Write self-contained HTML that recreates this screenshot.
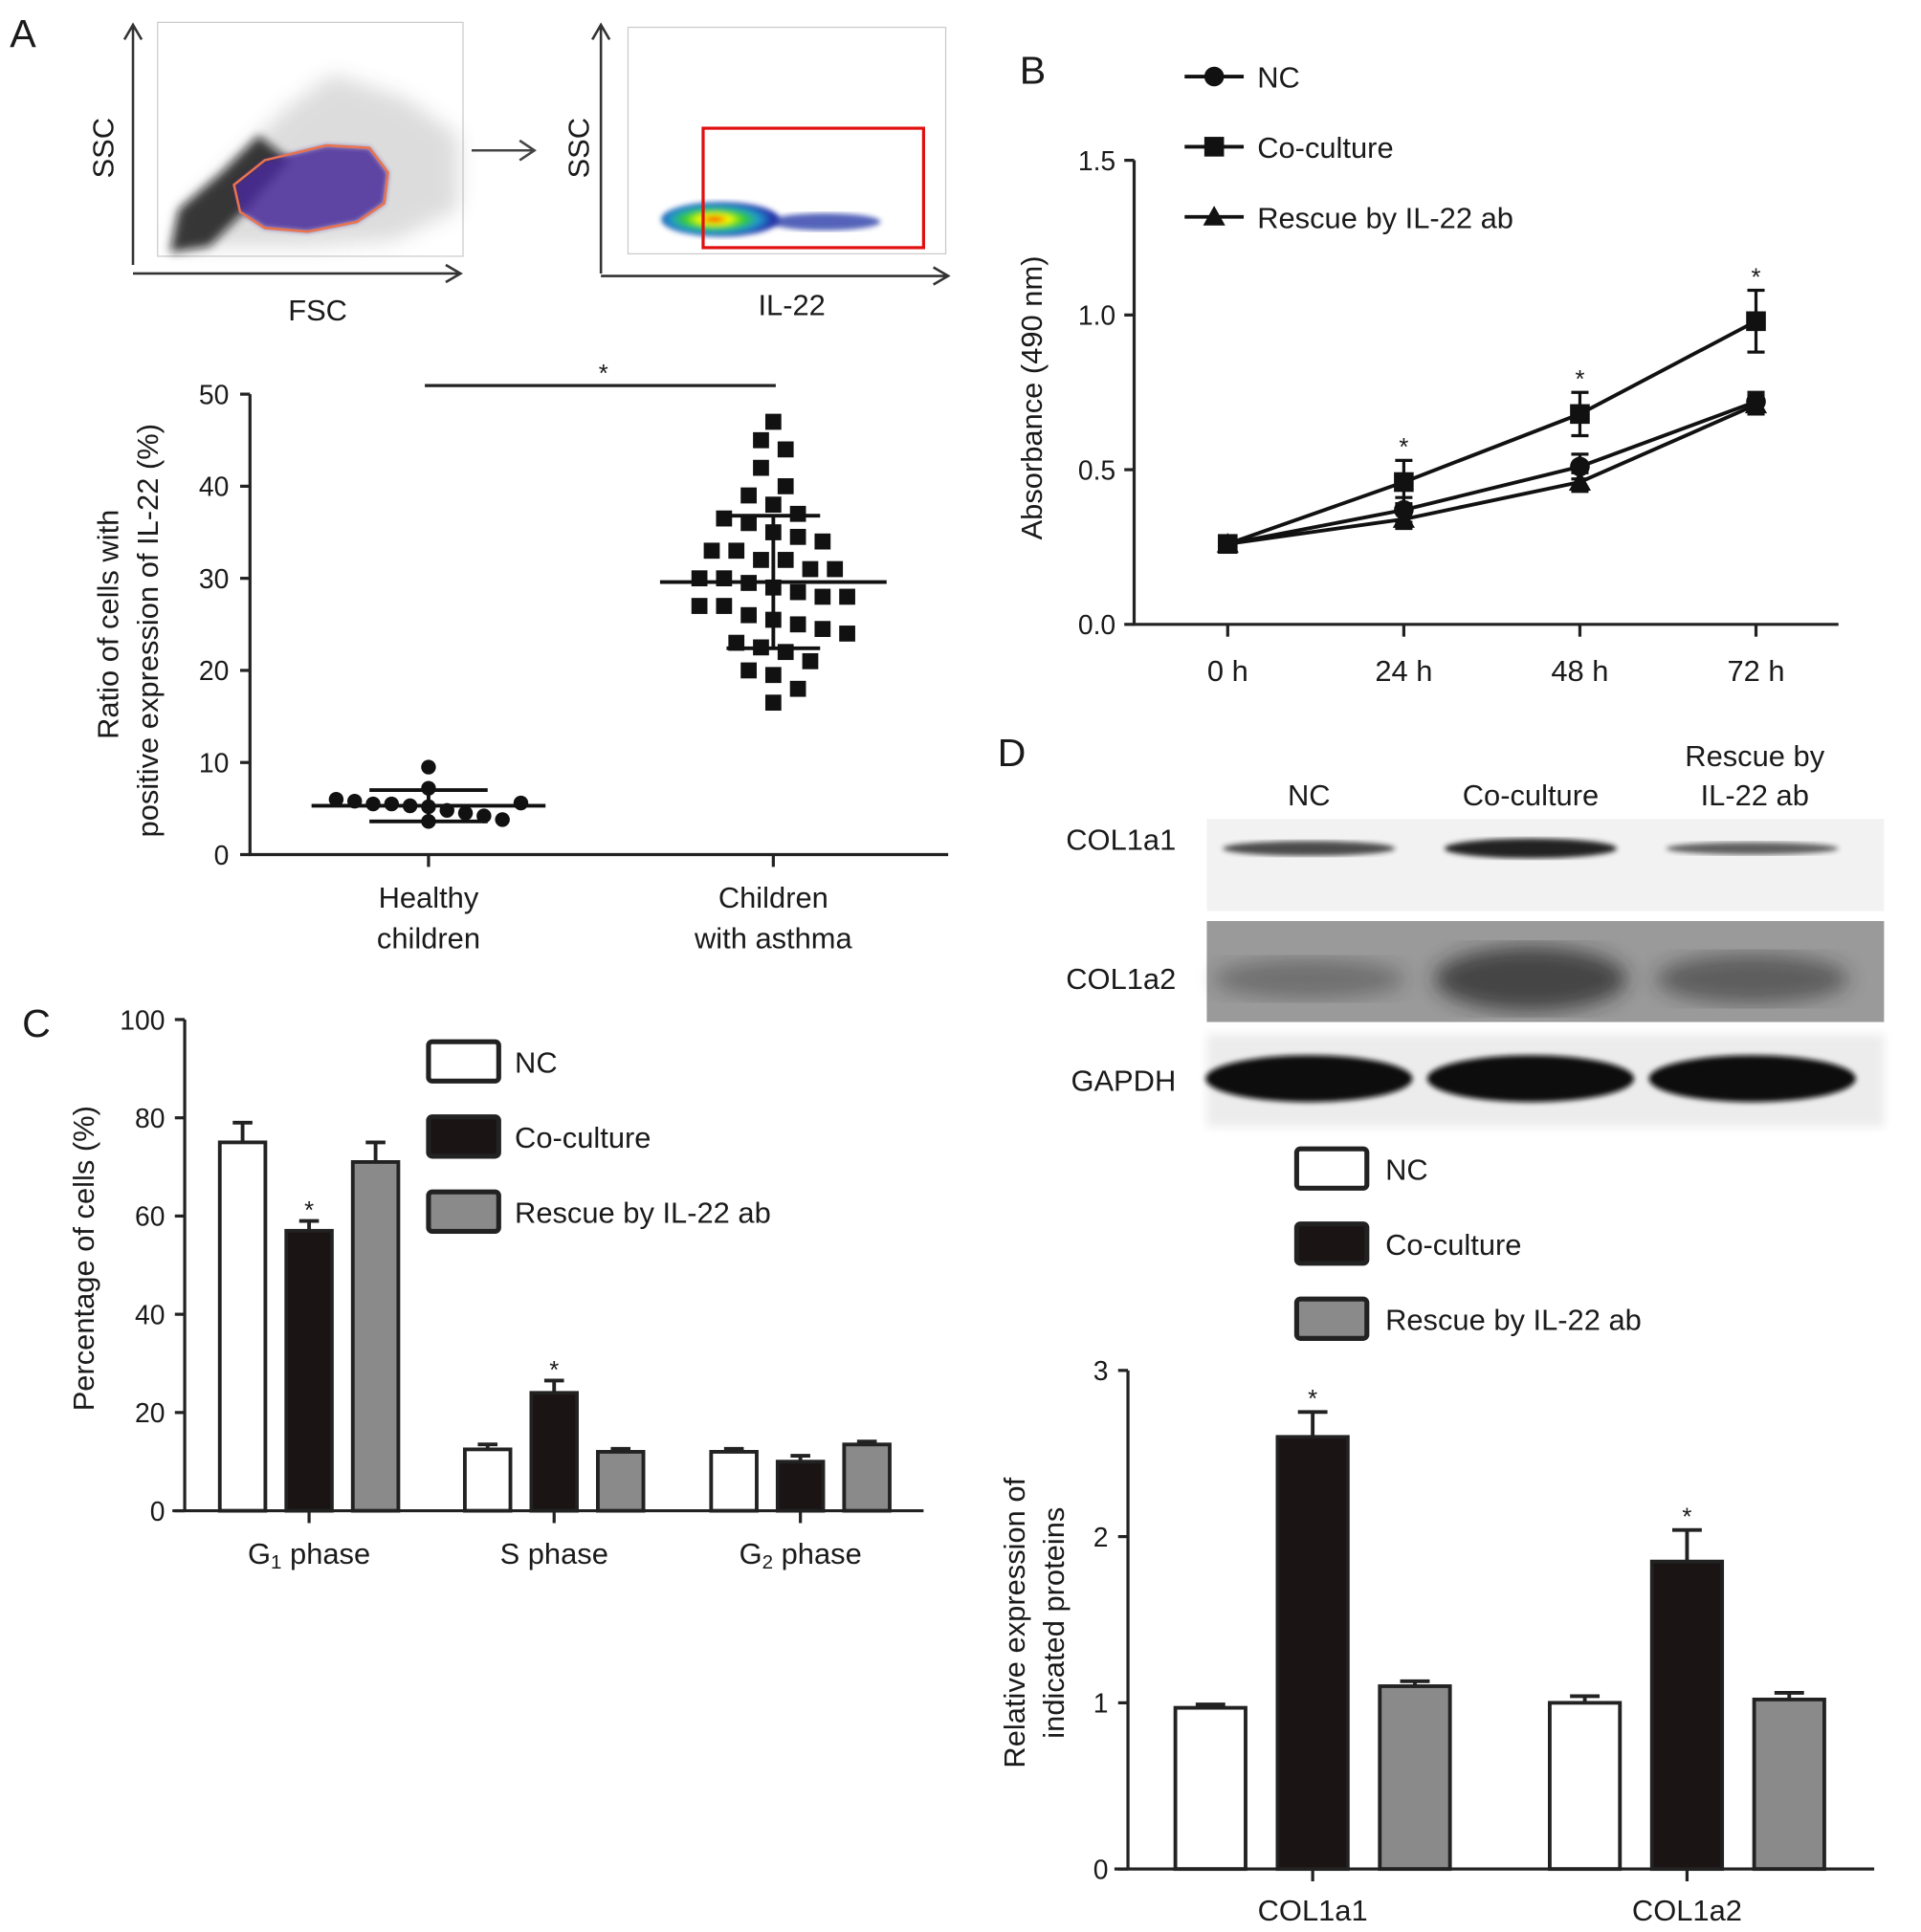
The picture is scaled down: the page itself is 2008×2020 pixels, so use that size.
<!DOCTYPE html>
<html><head><meta charset="utf-8"><style>
html,body{margin:0;padding:0;background:#fff}
svg{display:block}
text{font-family:"Liberation Sans",Arial,sans-serif;fill:#1a1a1a}
</style></head><body>
<svg id="fig" width="2008" height="2020" viewBox="0 0 1560 1569" xmlns="http://www.w3.org/2000/svg">
<defs>
<filter id="blur2"><feGaussianBlur stdDeviation="2"/></filter>
<filter id="blur4"><feGaussianBlur stdDeviation="4"/></filter>
<filter id="blur8"><feGaussianBlur stdDeviation="8"/></filter>
<radialGradient id="heat" cx="0.45" cy="0.5" r="0.5">
<stop offset="0" stop-color="#e00"/><stop offset="0.25" stop-color="#ff0"/><stop offset="0.5" stop-color="#3c3"/><stop offset="0.75" stop-color="#29c"/><stop offset="1" stop-color="#23a"/>
</radialGradient>
</defs>
<g font-size="32">
<text x="8" y="38">A</text>
<text x="828" y="68">B</text>
<text x="18" y="842">C</text>
<text x="810" y="622">D</text>
</g>
<g>
<rect x="128" y="18" width="248" height="190" fill="#fff" stroke="#ccc"/>
<path d="M140 200 L150 170 L190 130 L230 90 L270 60 L330 80 L372 110 L372 170 L320 195 L250 200 Z" fill="#555" opacity="0.2" filter="url(#blur8)"/>
<path d="M138 205 L145 170 L180 140 L210 110 L235 130 L200 170 L170 200 Z" fill="#111" opacity="0.8" filter="url(#blur4)"/>
<polygon points="190,150 215,130 265,118 300,120 315,140 312,165 290,180 250,188 215,185 195,172" fill="#4a2a9a" opacity="0.85" filter="url(#blur2)"/>
<polygon points="190,150 215,130 265,118 300,120 315,140 312,165 290,180 250,188 215,185 195,172" fill="none" stroke="#e8734f" stroke-width="2"/>
<path d="M108 215 V22 M101 32 L108 20 L115 32 M108 222 H372 M362 215 L374 222 L362 229" fill="none" stroke="#333" stroke-width="2"/>
<text x="92" y="120" font-size="24" transform="rotate(-90 92 120)" text-anchor="middle">SSC</text>
<text x="258" y="260" font-size="24" text-anchor="middle">FSC</text>
<path d="M383 122 H432 M422 114 L434 122 L422 130" fill="none" stroke="#444" stroke-width="2"/>
</g>
<g>
<rect x="510" y="22" width="258" height="184" fill="#fff" stroke="#ccc"/>
<ellipse cx="585" cy="178" rx="48" ry="14" fill="url(#heat)" filter="url(#blur2)"/>
<ellipse cx="670" cy="180" rx="45" ry="7" fill="#2a3ea8" opacity="0.8" filter="url(#blur2)"/>
<rect x="571" y="104" width="179" height="97" fill="none" stroke="#e01010" stroke-width="2.5"/>
<path d="M488 222 V22 M481 32 L488 20 L495 32 M488 224 H768 M758 217 L770 224 L758 231" fill="none" stroke="#333" stroke-width="2"/>
<text x="478" y="120" font-size="24" transform="rotate(-90 478 120)" text-anchor="middle">SSC</text>
<text x="643" y="256" font-size="24" text-anchor="middle">IL-22</text>
</g>
<g id="scatterA"></g>
<g id="lineB"></g>
<g id="barC"></g>
<g id="blotD"></g>
<g id="barD"></g>
</svg>
<script>
const NS="http://www.w3.org/2000/svg";
function mk(p,tag,at,txt){const e=document.createElementNS(NS,tag);for(const k in at)e.setAttribute(k,at[k]);if(txt!==undefined)e.textContent=txt;p.appendChild(e);return e;}

const aGroups=["Healthy children","Children with asthma"];
const aHealthy=[9.5,7.2,6.0,5.8,5.5,5.5,5.3,5.2,4.8,4.5,4.2,3.8,3.6,5.6];
const aAsthma=[47,45,44,42,40,39,38,37,36.5,36,35,34.5,34,33,33,32,32,31,31,30,30,29.5,29,28.5,28,28,27,27,26,25.5,25,24.5,24,23,22.5,22,21,20,19.5,18,16.5];
const aMean=[5.3,29.6];
const aSD=[1.7,7.2];
const aYTicks=[0,10,20,30,40,50];
(function(){
 const g=document.getElementById('scatterA');
 const y=v=>694-v*7.48;const cx=[348,628];
 mk(g,'path',{d:'M203 320 V694 H770',fill:'none',stroke:'#222','stroke-width':2.5});
 aYTicks.forEach(t=>{mk(g,'line',{x1:195,x2:203,y1:y(t),y2:y(t),stroke:'#222','stroke-width':2.5});
  const tx=mk(g,'text',{x:186,y:y(t)+8,'font-size':22,'text-anchor':'end'},t);});
 cx.forEach((c,i)=>{mk(g,'line',{x1:c,x2:c,y1:694,y2:704,stroke:'#222','stroke-width':2.5});});
 const l1=mk(g,'text',{x:348,y:737,'font-size':24,'text-anchor':'middle'},'Healthy');
 mk(g,'text',{x:348,y:770,'font-size':24,'text-anchor':'middle'},'children');
 const l2=mk(g,'text',{x:628,y:737,'font-size':24,'text-anchor':'middle'},'Children');
 mk(g,'text',{x:628,y:770,'font-size':24,'text-anchor':'middle'},'with asthma');
 const yt=mk(g,'text',{'font-size':24,'text-anchor':'middle',transform:'translate(96 507) rotate(-90)'},'Ratio of cells with');
 mk(g,'text',{'font-size':24,'text-anchor':'middle',transform:'translate(128 512) rotate(-90)'},'positive expression of IL-22 (%)');
 function place(vals,c,spread,bin,draw){const bins={};vals.forEach(v=>{const b=Math.round(v/bin);(bins[b]=bins[b]||[]).push(v);});
  Object.values(bins).forEach(arr=>{arr.forEach((v,j)=>{const off=(j-(arr.length-1)/2)*spread;draw(c+off,y(v));});});}
 place(aHealthy,348,15,2.5,(x,yy)=>{const p=mk(g,'circle',{cx:x,cy:yy,r:6,fill:'#111'});});
 place(aAsthma,628,20,3.2,(x,yy)=>{const p=mk(g,'rect',{x:x-6.5,y:yy-6.5,width:13,height:13,fill:'#111'});});
 const mw=[95,92],sw=[48,38];
 cx.forEach((c,i)=>{mk(g,'line',{x1:c-mw[i],x2:c+mw[i],y1:y(aMean[i]),y2:y(aMean[i]),stroke:'#111','stroke-width':3});
  mk(g,'line',{x1:c-sw[i],x2:c+sw[i],y1:y(aMean[i]+aSD[i]),y2:y(aMean[i]+aSD[i]),stroke:'#111','stroke-width':3});
  mk(g,'line',{x1:c-sw[i],x2:c+sw[i],y1:y(aMean[i]-aSD[i]),y2:y(aMean[i]-aSD[i]),stroke:'#111','stroke-width':3});
  mk(g,'line',{x1:c,x2:c,y1:y(aMean[i]+aSD[i]),y2:y(aMean[i]-aSD[i]),stroke:'#111','stroke-width':3});});
 mk(g,'line',{x1:345,x2:630,y1:313,y2:313,stroke:'#222','stroke-width':2.5});
 mk(g,'text',{x:490,y:310,'font-size':20,'text-anchor':'middle'},'*');
})();

const bTimes=["0 h","24 h","48 h","72 h"];
const bNC=[0.26,0.37,0.51,0.72];
const bCo=[0.26,0.46,0.68,0.98];
const bRes=[0.26,0.34,0.46,0.71];
const bNCerr=[0.02,0.04,0.04,0.03];
const bCoerr=[0.02,0.07,0.07,0.10];
const bReserr=[0.02,0.03,0.03,0.03];
const bYTicks=[0.0,0.5,1.0,1.5];
const bSig=[false,true,true,true];
(function(){
 const g=document.getElementById('lineB');
 const x=i=>997+i*143;const y=v=>507-v*251.3;
 mk(g,'path',{d:'M921 130 V507 H1493',fill:'none',stroke:'#222','stroke-width':2.5});
 bYTicks.forEach(t=>{mk(g,'line',{x1:913,x2:921,y1:y(t),y2:y(t),stroke:'#222','stroke-width':2.5});
  const tx=mk(g,'text',{x:906,y:y(t)+8,'font-size':22,'text-anchor':'end'},t.toFixed(1));});
 bTimes.forEach((t,i)=>{mk(g,'line',{x1:x(i),x2:x(i),y1:507,y2:517,stroke:'#222','stroke-width':2.5});
  const tx=mk(g,'text',{x:x(i),y:553,'font-size':24,'text-anchor':'middle'},t);});
 const yt=mk(g,'text',{'font-size':24,'text-anchor':'middle',transform:'translate(846 323) rotate(-90)'},'Absorbance (490 nm)');
 const series=[[bNC,bNCerr,'circle'],[bCo,bCoerr,'square'],[bRes,bReserr,'triangle']];
 function marker(sh,cx,cy){if(sh==='circle')return mk(g,'circle',{cx,cy,r:8,fill:'#111'});
  if(sh==='square')return mk(g,'rect',{x:cx-8,y:cy-8,width:16,height:16,fill:'#111'});
  return mk(g,'polygon',{points:`${cx},${cy-9} ${cx+9},${cy+7} ${cx-9},${cy+7}`,fill:'#111'});}
 series.forEach(([v,e,sh])=>{
  const ln=mk(g,'polyline',{points:v.map((d,i)=>x(i)+','+y(d)).join(' '),fill:'none',stroke:'#111','stroke-width':3});
  v.forEach((d,i)=>{mk(g,'path',{d:`M${x(i)} ${y(d+e[i])} V${y(d-e[i])} M${x(i)-7} ${y(d+e[i])} h14 M${x(i)-7} ${y(d-e[i])} h14`,stroke:'#111','stroke-width':2.5,fill:'none'});
   const m=marker(sh,x(i),y(d));});});
 bSig.forEach((s,i)=>{if(s)mk(g,'text',{x:x(i),y:y(bCo[i]+bCoerr[i])-4,'font-size':20,'text-anchor':'middle'},'*');});
 const lab=['NC','Co-culture','Rescue by IL-22 ab'],sh=['circle','square','triangle'];
 lab.forEach((l,i)=>{const yy=62+i*57;mk(g,'line',{x1:962,x2:1010,y1:yy,y2:yy,stroke:'#111','stroke-width':3});marker(sh[i],986,yy);
  const tx=mk(g,'text',{x:1021,y:yy+9,'font-size':24},l);});
})();

const cPhases=["G1","S","G2"];
const cNC=[75,12.5,12];
const cCo=[57,24,10];
const cRes=[71,12,13.5];
const cNCerr=[4,1,0.6];
const cCoerr=[2,2.5,1.2];
const cReserr=[4,0.6,0.6];
const cYTicks=[0,20,40,60,80,100];
const cSig=[true,true,false];
(function(){
 const g=document.getElementById('barC');
 const y=v=>1227-v*3.99;const centers=[251,450,650];
 const fills=['#fff','#1a1414','#8a8a8a'];const vals=[cNC,cCo,cRes],errs=[cNCerr,cCoerr,cReserr];
 cPhases.forEach((p,i)=>{for(let k=0;k<3;k++){const xc=centers[i]+(k-1)*54,v=vals[k][i],e=errs[k][i];
  mk(g,'path',{d:`M${xc} ${y(v)} V${y(v+e)} M${xc-8} ${y(v+e)} h16`,stroke:'#222','stroke-width':3,fill:'none'});
  const b=mk(g,'rect',{x:xc-18.5,y:y(v),width:37,height:1227-y(v),fill:fills[k],stroke:'#222','stroke-width':3});}
  if(cSig[i])mk(g,'text',{x:centers[i],y:y(cCo[i]+cCoerr[i])-2,'font-size':20,'text-anchor':'middle'},'*');});
 mk(g,'path',{d:'M150 828 V1227 M140 1227 H750',fill:'none',stroke:'#222','stroke-width':2.5});
 cYTicks.forEach(t=>{mk(g,'line',{x1:142,x2:150,y1:y(t),y2:y(t),stroke:'#222','stroke-width':2.5});
  const tx=mk(g,'text',{x:134,y:y(t)+8,'font-size':22,'text-anchor':'end'},t);});
 centers.forEach((c,i)=>{mk(g,'line',{x1:c,x2:c,y1:1227,y2:1237,stroke:'#222','stroke-width':2.5});
  const tx=mk(g,'text',{x:c,y:1270,'font-size':24,'text-anchor':'middle'});
  const ph=cPhases[i];if(ph.length>1){tx.textContent=ph[0];mk(tx,'tspan',{'font-size':16,dy:4},ph.slice(1));mk(tx,'tspan',{dy:-4},' phase');}else tx.textContent=ph+' phase';});
 const yt=mk(g,'text',{'font-size':24,'text-anchor':'middle',transform:'translate(76 1022) rotate(-90)'},'Percentage of cells (%)');
 ['NC','Co-culture','Rescue by IL-22 ab'].forEach((l,i)=>{const yy=846+i*61;mk(g,'rect',{x:348,y:yy,width:57,height:32,fill:fills[i],stroke:'#222','stroke-width':4,rx:3});
  const tx=mk(g,'text',{x:418,y:yy+25,'font-size':24},l);});
})();

(function(){
 const g=document.getElementById('blotD');
 mk(g,'rect',{x:980,y:665,width:550,height:75,fill:'#f2f2f2'});
 mk(g,'rect',{x:980,y:748,width:550,height:82,fill:'#9a9a9a'});
 mk(g,'rect',{x:980,y:840,width:550,height:75,fill:'#ececec',filter:'url(#blur4)'});
 const lanes=[1063,1243,1423];
 [[0.8,6],[1,8],[0.7,5]].forEach(([o,h],i)=>mk(g,'ellipse',{cx:lanes[i],cy:689,rx:70,ry:h,fill:'#222',opacity:o,filter:'url(#blur2)'}));
 [[0.35,16],[0.7,26],[0.5,20]].forEach(([o,h],i)=>mk(g,'ellipse',{cx:lanes[i],cy:795,rx:78,ry:h,fill:'#222',opacity:o,filter:'url(#blur8)'}));
 lanes.forEach(c=>mk(g,'ellipse',{cx:c,cy:876,rx:84,ry:19,fill:'#0d0d0d',filter:'url(#blur2)'}));
 [['COL1a1',690],['COL1a2',803],['GAPDH',886]].forEach(([t,yy])=>{const tx=mk(g,'text',{x:955,y:yy,'font-size':24,'text-anchor':'end'},t);});
 mk(g,'text',{x:1063,y:654,'font-size':24,'text-anchor':'middle'},'NC');
 mk(g,'text',{x:1243,y:654,'font-size':24,'text-anchor':'middle'},'Co-culture');
 mk(g,'text',{x:1425,y:622,'font-size':24,'text-anchor':'middle'},'Rescue by');
 mk(g,'text',{x:1425,y:654,'font-size':24,'text-anchor':'middle'},'IL-22 ab');
})();

const dProteins=["COL1a1","COL1a2"];
const dNC=[0.97,1.0];
const dCo=[2.6,1.85];
const dRes=[1.1,1.02];
const dNCerr=[0.02,0.04];
const dCoerr=[0.15,0.19];
const dReserr=[0.03,0.04];
const dYTicks=[0,1,2,3];
const dSig=[true,true];
(function(){
 const g=document.getElementById('barD');
 const y=v=>1518-v*135;const centers=[1066,1370];
 const fills=['#fff','#1a1414','#8a8a8a'];const vals=[dNC,dCo,dRes],errs=[dNCerr,dCoerr,dReserr];
 dProteins.forEach((p,i)=>{for(let k=0;k<3;k++){const xc=centers[i]+(k-1)*83,v=vals[k][i],e=errs[k][i];
  mk(g,'path',{d:`M${xc} ${y(v)} V${y(v+e)} M${xc-12} ${y(v+e)} h24`,stroke:'#222','stroke-width':3,fill:'none'});
  const b=mk(g,'rect',{x:xc-28.5,y:y(v),width:57,height:1518-y(v),fill:fills[k],stroke:'#222','stroke-width':3});}
  if(dSig[i])mk(g,'text',{x:centers[i],y:y(dCo[i]+dCoerr[i])-4,'font-size':20,'text-anchor':'middle'},'*');});
 mk(g,'path',{d:'M916 1113 V1518 M905 1518 H1522',fill:'none',stroke:'#222','stroke-width':2.5});
 dYTicks.forEach(t=>{mk(g,'line',{x1:908,x2:916,y1:y(t),y2:y(t),stroke:'#222','stroke-width':2.5});
  const tx=mk(g,'text',{x:900,y:y(t)+8,'font-size':22,'text-anchor':'end'},t);});
 centers.forEach((c,i)=>{mk(g,'line',{x1:c,x2:c,y1:1518,y2:1528,stroke:'#222','stroke-width':2.5});
  const tx=mk(g,'text',{x:c,y:1560,'font-size':24,'text-anchor':'middle'},dProteins[i]);});
 const yt=mk(g,'text',{'font-size':24,'text-anchor':'middle',transform:'translate(832 1318) rotate(-90)'},'Relative expression of');
 mk(g,'text',{'font-size':24,'text-anchor':'middle',transform:'translate(864 1318) rotate(-90)'},'indicated proteins');
 ['NC','Co-culture','Rescue by IL-22 ab'].forEach((l,i)=>{const yy=933+i*61;mk(g,'rect',{x:1053,y:yy,width:57,height:32,fill:fills[i],stroke:'#222','stroke-width':4,rx:3});
  const tx=mk(g,'text',{x:1125,y:yy+25,'font-size':24},l);});
})();
</script>
</body></html>
